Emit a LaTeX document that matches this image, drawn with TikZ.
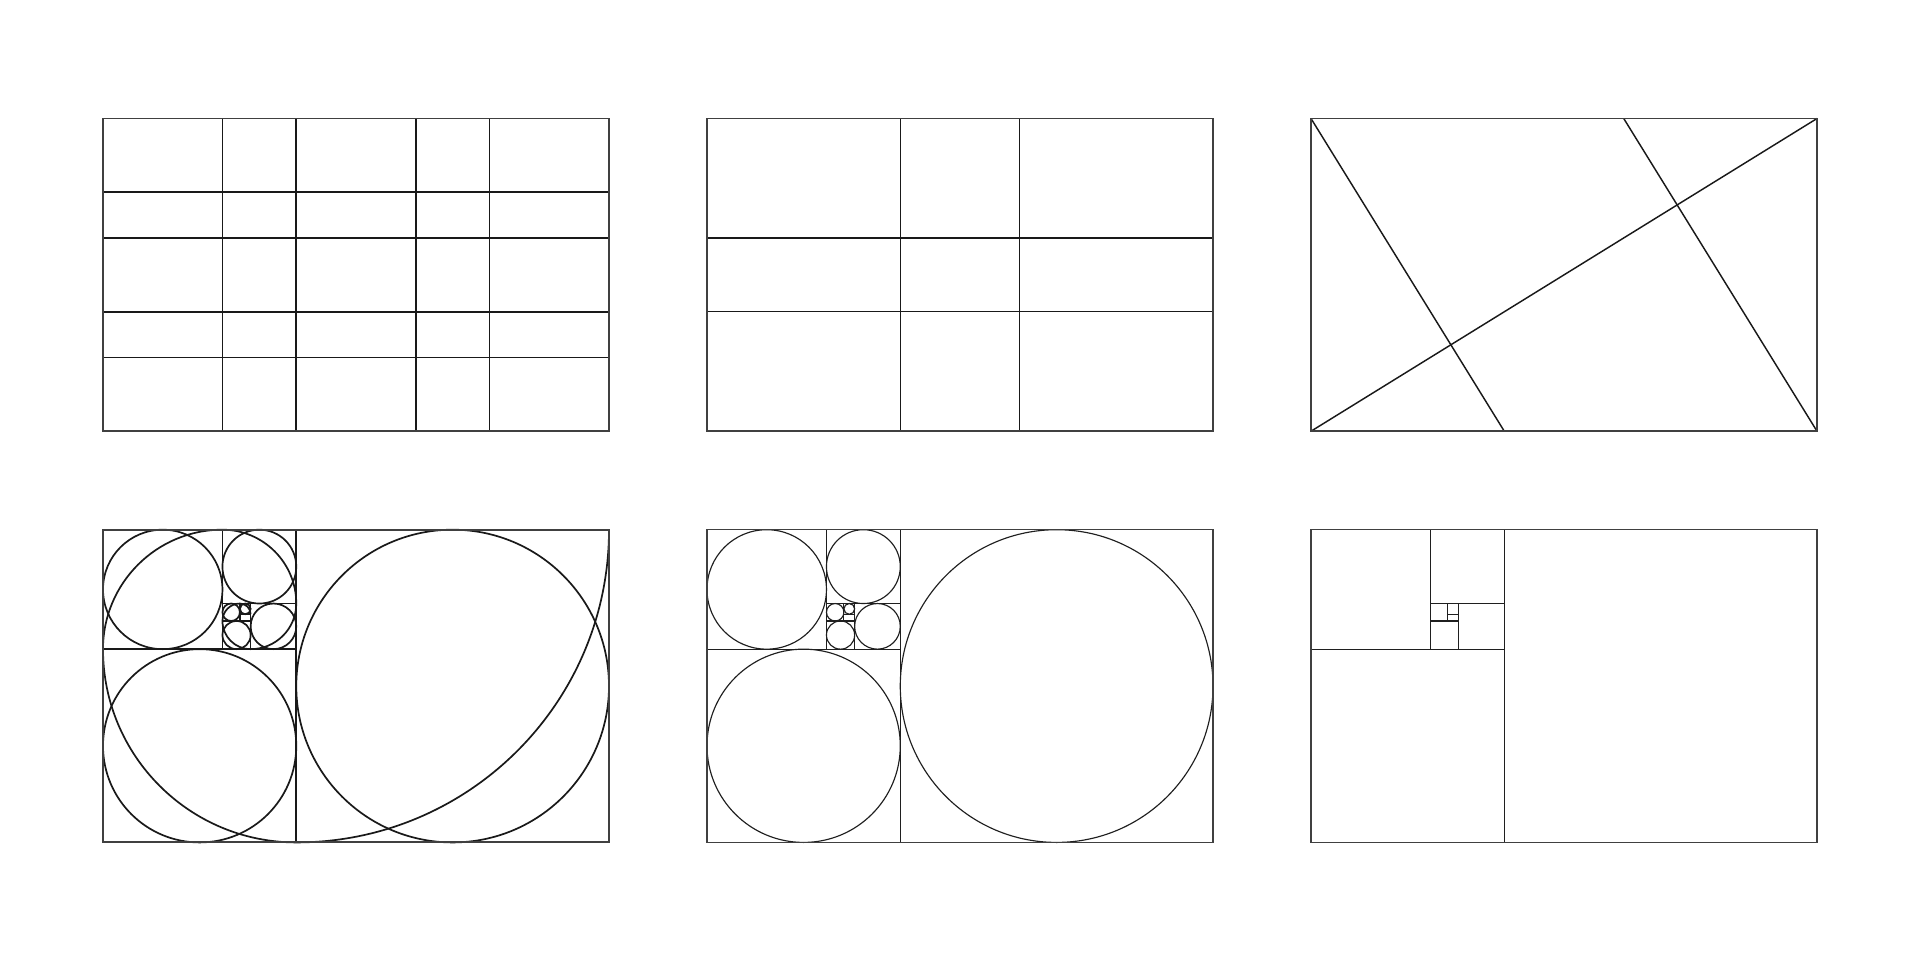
\documentclass[tikz,border=0pt]{standalone}
\begin{document}
\begin{tikzpicture}[x=1pt,y=-1pt,
  frame/.style={draw=black!75,line width=1.9pt},
  heavy/.style={draw=black!90,line width=1.7pt},
  medium/.style={draw=black!90,line width=1.45pt},
  light/.style={draw=black!88,line width=1.15pt}]
\useasboundingbox (0,0) rectangle (1920,960);
\fill[white] (0,0) rectangle (1920,960);
\def\gW{506}
\pgfmathsetmacro{\sa}{\gW/1.6180340}
\pgfmathsetmacro{\sb}{\gW-\sa}
\pgfmathsetmacro{\sc}{\sa-\sb}
\pgfmathsetmacro{\sd}{\sb-\sc}
\pgfmathsetmacro{\se}{\sc-\sd}
\pgfmathsetmacro{\sf}{\sd-\se}
\pgfmathsetmacro{\sg}{\se-\sf}
\pgfmathsetmacro{\sh}{\sf-\sg}
\def\gH{\sa}
\newcommand{\goldsquares}[1]{%
  \draw[#1] (\sb,0) -- (\sb,\sa);
  \draw[#1] (0,\sc) -- (\sb,\sc);
  \draw[#1] (\sc,0) -- (\sc,\sc);
  \draw[#1] (\sc,\sd) -- (\sb,\sd);
  \draw[#1] ({\sb-\se},\sd) -- ({\sb-\se},\sc);
  \draw[#1] (\sc,{\sc-\sf}) -- ({\sb-\se},{\sc-\sf});
  \draw[#1] ({\sc+\sg},\sd) -- ({\sc+\sg},{\sc-\sf});
  \draw[#1] ({\sc+\sg},{\sd+\sh}) -- ({\sc+\sf},{\sd+\sh});
}
\newcommand{\goldcircles}[1]{%
  \draw[#1] ({\sb+\sa/2},{\sa/2}) circle[radius={\sa/2}];
  \draw[#1] ({\sb/2},{\sc+\sb/2}) circle[radius={\sb/2}];
  \draw[#1] ({\sc/2},{\sc/2}) circle[radius={\sc/2}];
  \draw[#1] ({\sc+\sd/2},{\sd/2}) circle[radius={\sd/2}];
  \draw[#1] ({\sb-\se/2},{\sd+\se/2}) circle[radius={\se/2}];
  \draw[#1] ({\sc+\sf/2},{\sc-\sf/2}) circle[radius={\sf/2}];
  \draw[#1] ({\sc+\sg/2},{\sd+\sg/2}) circle[radius={\sg/2}];
  \draw[#1] ({\sc+\sg+\sh/2},{\sd+\sh/2}) circle[radius={\sh/2}];
}
% Panel 1: golden grid
\begin{scope}[shift={(103,118.5)}]
  \foreach \f in {0.236068,0.381966,0.618034,0.763932}{
    \draw[heavy] ({\f*\gW},0) -- ({\f*\gW},\gH);
    \draw[heavy] (0,{\f*\gH}) -- (\gW,{\f*\gH});
  }
  \draw[frame] (0,0) rectangle (\gW,\gH);
\end{scope}
% Panel 2: phi grid
\begin{scope}[shift={(707,118.5)}]
  \foreach \f in {0.381966,0.618034}{
    \draw[medium] ({\f*\gW},0) -- ({\f*\gW},\gH);
    \draw[medium] (0,{\f*\gH}) -- (\gW,{\f*\gH});
  }
  \draw[frame] (0,0) rectangle (\gW,\gH);
\end{scope}
% Panel 3: golden triangles
\begin{scope}[shift={(1311,118.5)}]
  \draw[medium] (0,\gH) -- (\gW,0);
  \draw[medium] (0,0) -- ({0.381966*\gW},\gH);
  \draw[medium] ({0.618034*\gW},0) -- (\gW,\gH);
  \draw[frame] (0,0) rectangle (\gW,\gH);
\end{scope}
% Panel 4: squares, circles and spiral
\begin{scope}[shift={(103,529.7)}]
  \goldsquares{heavy}
  \goldcircles{heavy}
  \draw[heavy] (\gW,0) arc[start angle=0,end angle=90,radius=\sa]
    arc[start angle=90,end angle=180,radius=\sb]
    arc[start angle=180,end angle=270,radius=\sc]
    arc[start angle=270,end angle=360,radius=\sd]
    arc[start angle=0,end angle=90,radius=\se]
    arc[start angle=90,end angle=180,radius=\sf]
    arc[start angle=180,end angle=270,radius=\sg]
    arc[start angle=270,end angle=360,radius=\sh];
  \draw[frame] (0,0) rectangle (\gW,\gH);
\end{scope}
% Panel 5: squares and circles
\begin{scope}[shift={(707,529.7)}]
  \goldsquares{light}
  \goldcircles{light}
  \draw[light,draw=black!75] (0,0) rectangle (\gW,\gH);
\end{scope}
% Panel 6: squares
\begin{scope}[shift={(1311,529.7)}]
  \goldsquares{light}
  \draw[light,draw=black!75,line width=1.3pt] (0,0) rectangle (\gW,\gH);
\end{scope}
\end{tikzpicture}
\end{document}
